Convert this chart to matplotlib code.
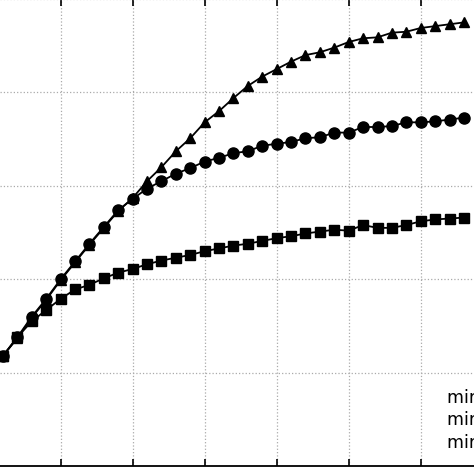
import matplotlib
matplotlib.use("Agg")
import matplotlib.pyplot as plt
import numpy as np

# x positions (iterations) and the three curves
x = list(range(1, 34))
squares = [1.18, 1.38, 1.55, 1.67, 1.79, 1.89, 1.94, 2.01, 2.07, 2.11, 2.16,
           2.20, 2.23, 2.26, 2.30, 2.33, 2.36, 2.38, 2.41, 2.44, 2.46, 2.49,
           2.51, 2.53, 2.52, 2.58, 2.55, 2.55, 2.58, 2.62, 2.64, 2.65, 2.66]
circles = [1.18, 1.38, 1.60, 1.79, 2.00, 2.19, 2.38, 2.56, 2.74, 2.86, 2.97,
           3.05, 3.13, 3.19, 3.26, 3.30, 3.35, 3.37, 3.43, 3.45, 3.47, 3.51,
           3.52, 3.57, 3.57, 3.63, 3.63, 3.64, 3.68, 3.68, 3.69, 3.71, 3.73]
triangles = [1.18, 1.37, 1.59, 1.78, 1.99, 2.18, 2.37, 2.55, 2.73, 2.87, 3.05,
             3.20, 3.37, 3.51, 3.68, 3.80, 3.94, 4.07, 4.17, 4.25, 4.33, 4.40,
             4.43, 4.48, 4.54, 4.58, 4.59, 4.64, 4.65, 4.69, 4.71, 4.73, 4.75]
labels = ["mirror 1", "mirror 2", "mirror 3"]
xticks = [5, 10, 15, 20, 25, 30]
yticks = [0, 1, 2, 3, 4, 5]

fig = plt.figure(figsize=(4.74, 4.74), dpi=100)
ax = fig.add_axes([0, 8 / 474, 1, 1 - 8 / 474 + 0.002])

ax.plot(x, triangles, "k-^", lw=1.3, ms=7)
ax.plot(x, circles, "k-o", lw=1.3, ms=8)
ax.plot(x, squares, "k-s", lw=1.3, ms=7)

ax.set_xlim(0.79, 33.7)
ax.set_ylim(0, 5)
ax.set_xticks(xticks)
ax.set_yticks(yticks)
ax.set_xticklabels([])
ax.set_yticklabels([])
ax.grid(True, color="#aaaaaa", ls=":", lw=0.9)
ax.tick_params(direction="in", top=True, bottom=True, left=False, length=5, width=1.2)
ax.spines["left"].set_visible(False)
ax.spines["right"].set_visible(False)
ax.spines["bottom"].set_linewidth(1.3)
ax.spines["top"].set_linewidth(1.3)

for yy, lab in zip([0.73, 0.49, 0.25], labels):
    ax.text(31.8, yy, lab, fontsize=12.5, va="center", ha="left", clip_on=False)

fig.savefig("out.png", dpi=100)
